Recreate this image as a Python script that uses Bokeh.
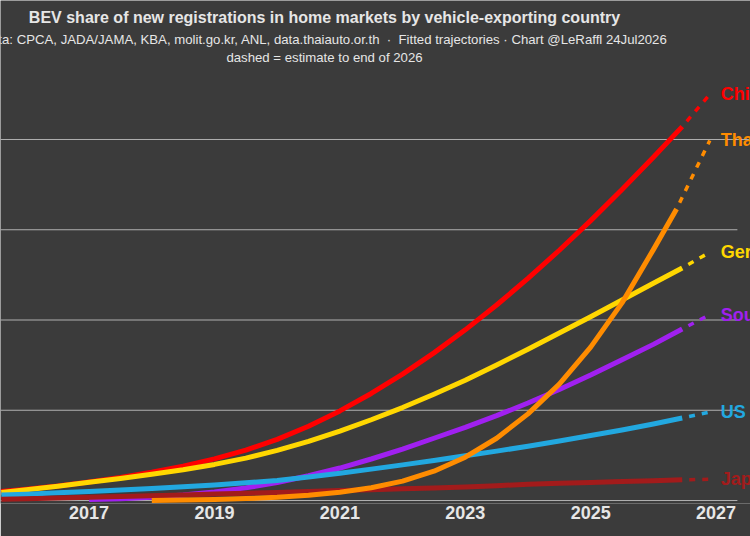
from bokeh.plotting import figure
from bokeh.models import Range1d, Label, FixedTicker
from bokeh.embed import file_html
from bokeh.resources import INLINE

# BEV share of new registrations (%), fitted trajectories
years = [2015.6, 2016, 2016.5, 2017, 2017.5, 2018, 2018.5, 2019, 2019.5, 2020,
         2020.5, 2021, 2021.5, 2022, 2022.5, 2023, 2023.5, 2024, 2024.5, 2025,
         2025.5, 2026, 2026.46]
china = [1.0, 1.25, 1.6, 2.05, 2.55, 3.13, 3.81, 4.61, 5.58, 6.78, 8.23, 9.93, 11.86,
         14.01, 16.36, 18.91, 21.66, 24.61, 27.73, 31.01, 34.45, 38.03, 41.43]
germany = [0.9, 1.2, 1.58, 2.02, 2.45, 2.9, 3.4, 4.0, 4.7, 5.55, 6.55, 7.7, 8.95,
           10.3, 11.77, 13.32, 15.02, 16.77, 18.57, 20.37, 22.22, 24.07, 25.77]
us = [0.6, 0.7, 0.85, 1.0, 1.16, 1.33, 1.52, 1.73, 1.96, 2.22, 2.6, 3.03, 3.48, 3.95,
      4.44, 4.95, 5.47, 6.02, 6.6, 7.2, 7.82, 8.48, 9.15]
japan = [0.15, 0.2, 0.28, 0.35, 0.45, 0.53, 0.62, 0.71, 0.8, 0.9, 1.0, 1.1, 1.2, 1.3,
         1.4, 1.5, 1.65, 1.8, 1.9, 2.0, 2.1, 2.2, 2.3]

korea_years = [2017, 2017.5, 2018, 2018.5, 2019, 2019.5, 2020, 2020.5, 2021, 2021.5,
               2022, 2022.5, 2023, 2023.5, 2024, 2024.5, 2025, 2025.5, 2026, 2026.46]
korea = [0.1, 0.2, 0.35, 0.6, 0.95, 1.4, 2.0, 2.75, 3.6, 4.6, 5.7, 6.9, 8.1, 9.4,
         10.8, 12.3, 13.9, 15.6, 17.3, 19.0]

thai_years = [2018, 2018.5, 2019, 2019.5, 2020, 2020.5, 2021, 2021.5, 2022, 2022.5,
              2023, 2023.5, 2024, 2024.5, 2025, 2025.5, 2026, 2026.37]
thailand = [0.0, 0.05, 0.12, 0.22, 0.35, 0.58, 0.92, 1.42, 2.15, 3.25, 4.8, 6.9, 9.6,
            12.9, 17.0, 21.9, 27.8, 32.3]

# estimates to the end of 2026
estimate_year = 2026.9
estimates = {"China": 45.0, "Thailand": 39.9, "Germany": 27.5,
             "South Korea": 20.6, "US": 9.8, "Japan": 2.35}

series = [
    ("China", years, china, "#ff0000"),
    ("Germany", years, germany, "#ffd700"),
    ("South Korea", korea_years, korea, "#a020f0"),
    ("US", years, us, "#22a8e0"),
    ("Japan", years, japan, "#a21b1b"),
    ("Thailand", thai_years, thailand, "#ff8c00"),
]

x_ticks = [2017, 2019, 2021, 2023, 2025, 2027]
y_grid = [0, 10, 20, 30]
y_grid_top = 40

BG = "#3b3b3b"
TEXT = "#e6e6e6"
GRID = "#b0b0b0"
X_START, X_END = 2015.587, 2027.549
GRID_END = 2027.34

p = figure(width=750, height=536, output_backend="svg", toolbar_location=None,
           x_range=Range1d(X_START, X_END), y_range=Range1d(-0.33, 55.4),
           min_border_left=0, min_border_right=0, min_border_top=0,
           min_border_bottom=33, background_fill_color=BG, border_fill_color=BG,
           outline_line_color=None)

p.yaxis.visible = False
p.xgrid.visible = False
p.ygrid.visible = False

# horizontal gridlines stop short of the country labels, the top one runs through
p.segment(x0=[X_START - 1] * len(y_grid), x1=[GRID_END] * len(y_grid),
          y0=y_grid, y1=y_grid, line_color=GRID, line_width=1)
p.segment(x0=[X_START - 1], x1=[X_END + 1], y0=[y_grid_top], y1=[y_grid_top],
          line_color=GRID, line_width=1)

ax = p.xaxis[0]
ax.ticker = FixedTicker(ticks=x_ticks)
ax.axis_line_color = None
ax.major_tick_line_color = None
ax.minor_tick_line_color = None
ax.major_tick_out = 0
ax.major_label_standoff = 2
ax.major_label_text_font = "Liberation Sans"
ax.major_label_text_font_style = "bold"
ax.major_label_text_font_size = "18px"
ax.major_label_text_color = TEXT

for name, xs, ys, color in series:
    p.line(xs, ys, line_color=color, line_width=5, line_cap="butt",
           line_join="round")
    est = estimates[name]
    p.line([xs[-1], estimate_year], [ys[-1], est], line_color=color,
           line_width=3.5, line_dash="6 7", line_dash_offset=6, line_cap="butt")
    p.add_layout(Label(x=estimate_year, y=est, x_offset=11, text=name,
                       text_color=color, text_font="Liberation Sans",
                       text_font_style="bold", text_font_size="18px",
                       text_baseline="middle", text_align="left"))

titles = [
    ("BEV share of new registrations in home markets by vehicle-exporting country",
     486, "16px", "bold"),
    ("Data: CPCA, JADA/JAMA, KBA, molit.go.kr, ANL, data.thaiauto.or.th\u00a0 \u00b7 "
     "\u00a0Fitted trajectories \u00b7 Chart @LeRaffl 24Jul2026", 464, "13.2px",
     "normal"),
    ("dashed = estimate to end of 2026", 446, "13.2px", "normal"),
]
for text, sy, size, style in titles:
    p.add_layout(Label(x=324, y=sy, x_units="screen", y_units="screen", text=text,
                       text_color=TEXT, text_font="Liberation Sans",
                       text_font_style=style, text_font_size=size,
                       text_align="center", text_baseline="middle"))

open("out.html", "w").write(file_html(p, INLINE))
